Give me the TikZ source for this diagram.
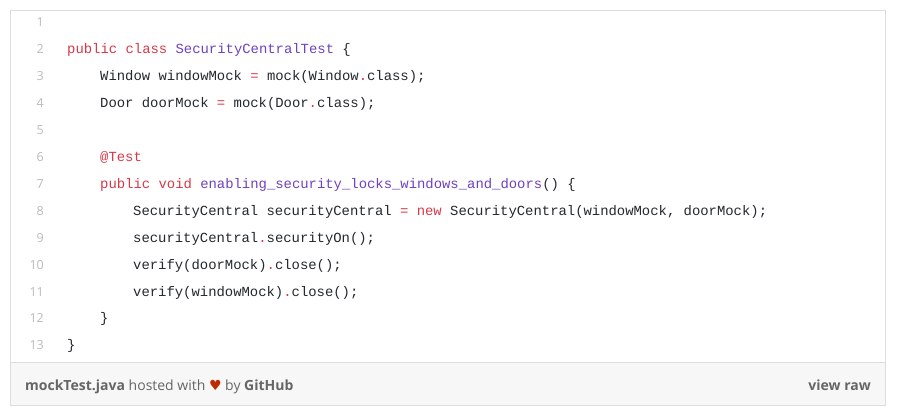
\documentclass[tikz,border=0pt]{standalone}
\usepackage{fontspec}
\setmainfont{Open Sans}
\setmonofont{Liberation Mono}
\newfontfamily\heartfont{DejaVu Sans}
\definecolor{kw}{HTML}{D73A49}
\definecolor{cls}{HTML}{6F42C1}
\definecolor{txt}{HTML}{24292E}
\definecolor{num}{HTML}{BBBBBB}
\definecolor{foot}{HTML}{F7F7F7}
\definecolor{bord}{HTML}{DDDDDD}
\definecolor{ftxt}{HTML}{666666}
\begin{document}
\begin{tikzpicture}[x=1pt,y=-1pt,
  ln/.style={anchor=base east,inner sep=0pt,text=num,font=\fontsize{12.5}{13}\selectfont},
  code/.style={anchor=base west,inner sep=0pt,text=txt,font=\fontsize{13.9}{14}\ttfamily}]
\useasboundingbox (0,0) rectangle (897,415);
\fill[white] (0,0) rectangle (897,415);
\fill[foot] (10,362) rectangle (885,405);
\draw[bord] (10,10) rectangle (885,405);
\draw[bord] (10,362) -- (885,362);
\newcommand\K[1]{\textcolor{kw}{#1}}
\newcommand\C[1]{\textcolor{cls}{#1}}
\foreach \i in {1,...,13}{\node[ln] (n\i) at (44,{27+26.9*(\i-1)}) {\i};}
\def\by#1{{27+26.9*(#1-1)}}
\node[code] (l2) at (67,\by{2}) {\K{public} \K{class} \C{SecurityCentralTest} \{};
\node[code] (l3) at (100,\by{3}) {Window windowMock \K{=} mock(Window\K{.}class);};
\node[code] (l4) at (100,\by{4}) {Door doorMock \K{=} mock(Door\K{.}class);};
\node[code] (l6) at (100,\by{6}) {\K{@Test}};
\node[code] (l7) at (100,\by{7}) {\K{public} \K{void} \C{enabling\_security\_locks\_windows\_and\_doors}() \{};
\node[code] (l8) at (133,\by{8}) {SecurityCentral securityCentral \K{=} \K{new} SecurityCentral(windowMock, doorMock);};
\node[code] (l9) at (133,\by{9}) {securityCentral\K{.}securityOn();};
\node[code] (l10) at (133,\by{10}) {verify(doorMock)\K{.}close();};
\node[code] (l11) at (133,\by{11}) {verify(windowMock)\K{.}close();};
\node[code] (l12) at (100,\by{12}) {\}};
\node[code] (l13) at (67,\by{13}) {\}};
\node[anchor=base west,inner sep=0pt,text=ftxt,font=\fontsize{14}{15}\selectfont] (f) at (25,390)
 {\textbf{mockTest.java} hosted with {\heartfont\textcolor[HTML]{BD2C00}{♥}} by \textbf{GitHub}};
\node[anchor=base east,inner sep=0pt,text=ftxt,font=\fontsize{14}{15}\selectfont\bfseries] (raw) at (871,390) {view raw};
\end{tikzpicture}
\end{document}
